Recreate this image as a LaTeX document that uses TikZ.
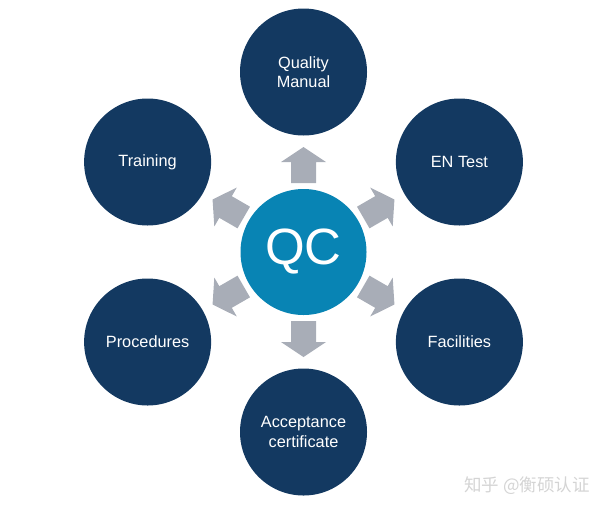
\documentclass[tikz,border=0pt]{standalone}
\usepackage{fontspec}
\setmainfont{Liberation Sans}
\newfontfamily\cjk{Noto Sans CJK SC}
\usetikzlibrary{calc}
\definecolor{navy}{RGB}{19,57,97}
\definecolor{qcblue}{RGB}{8,132,180}
\definecolor{arrowgray}{RGB}{168,173,183}
\definecolor{wmgray}{RGB}{212,212,212}
\begin{document}
\begin{tikzpicture}[x=1pt,y=-1pt,
  outer/.style={circle,fill=navy,minimum size=127pt,inner sep=0pt,text=white,
    font=\fontsize{16.3}{19.5}\selectfont,align=center},
  centre/.style={circle,fill=qcblue,minimum size=126pt,inner sep=0pt,text=white,
    font=\fontsize{51}{52}\selectfont},
  blockarrow/.style={fill=arrowgray},
  watermark/.style={text=wmgray,font=\cjk\fontsize{17.5}{18}\selectfont,inner sep=0pt}]
\useasboundingbox (0,0) rectangle (609,512);
\node[centre] (qc) at (303.5,252) {QC};
\node[outer] (qm) at (303.5,72) {Quality\\Manual};
\node[outer] (en) at (459.4,162) {EN Test};
\node[outer] (fa) at (459.4,342) {Facilities};
\node[outer] (ac) at (303.5,432) {Acceptance\\certificate};
\node[outer] (pr) at (147.6,342) {Procedures};
\node[outer] (tr) at (147.6,162) {Training};
\foreach \t in {qm,en,fa,ac,pr,tr}{
  \fill[blockarrow]
    ($(qc)!69pt!(\t)!12.5pt!90:(\t)$) --
    ($(qc)!90pt!(\t)!12.5pt!90:(\t)$) --
    ($(qc)!90pt!(\t)!22.5pt!90:(\t)$) --
    ($(qc)!105pt!(\t)$) --
    ($(qc)!90pt!(\t)!22.5pt!-90:(\t)$) --
    ($(qc)!90pt!(\t)!12.5pt!-90:(\t)$) --
    ($(qc)!69pt!(\t)!12.5pt!-90:(\t)$) -- cycle;
}
\node[watermark] (wm) at (527,486) {知乎 @衡硕认证};
\end{tikzpicture}
\end{document}
